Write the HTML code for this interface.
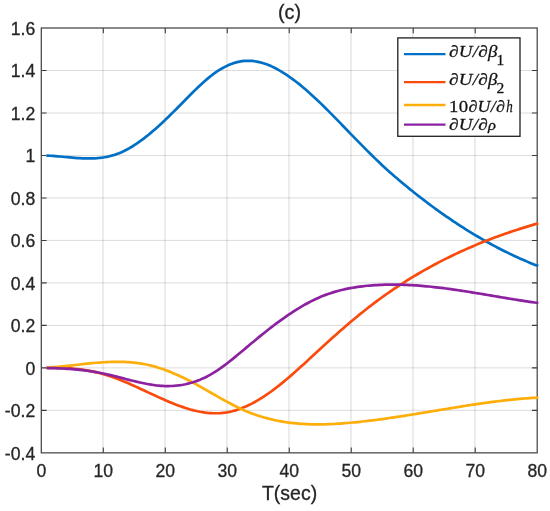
<!DOCTYPE html>
<html><head><meta charset="utf-8"><title>(c)</title>
<style>
html,body{margin:0;padding:0;background:#fff;}
svg{display:block;}
.t{font-family:"Liberation Sans",sans-serif;font-size:17.6px;fill:#262626;stroke:#262626;stroke-width:0.3px;}
.l{font-family:"Liberation Sans",sans-serif;font-size:19.5px;fill:#262626;stroke:#262626;stroke-width:0.3px;}
.m{font-family:"Liberation Serif","DejaVu Serif",serif;font-style:italic;font-size:16.6px;fill:#111;stroke:#111;stroke-width:0.25px;letter-spacing:0.3px;}
.n{font-family:"Liberation Serif","DejaVu Serif",serif;font-style:normal;}
</style></head><body>
<svg width="550" height="511" viewBox="0 0 550 511">
<rect width="550" height="511" fill="#fff"/>
<path d="M102.99 28.0 V452.85 M164.97 28.0 V452.85 M226.96 28.0 V452.85 M288.95 28.0 V452.85 M350.94 28.0 V452.85 M412.93 28.0 V452.85 M474.91 28.0 V452.85" stroke="#262626" stroke-opacity="0.105" stroke-width="1.7" fill="none"/>
<path d="M41.3 410.37 H537.2 M41.3 367.88 H537.2 M41.3 325.39 H537.2 M41.3 282.91 H537.2 M41.3 240.43 H537.2 M41.3 197.94 H537.2 M41.3 155.46 H537.2 M41.3 112.97 H537.2 M41.3 70.49 H537.2" stroke="#262626" stroke-opacity="0.16" stroke-width="1" fill="none"/>
<path d="M103.29 452.85 v-5.3 M103.29 28.0 v5.3 M165.28 452.85 v-5.3 M165.28 28.0 v5.3 M227.26 452.85 v-5.3 M227.26 28.0 v5.3 M289.25 452.85 v-5.3 M289.25 28.0 v5.3 M351.24 452.85 v-5.3 M351.24 28.0 v5.3 M413.23 452.85 v-5.3 M413.23 28.0 v5.3 M475.21 452.85 v-5.3 M475.21 28.0 v5.3 M41.3 410.37 h5.3 M537.2 410.37 h-5.3 M41.3 367.88 h5.3 M537.2 367.88 h-5.3 M41.3 325.39 h5.3 M537.2 325.39 h-5.3 M41.3 282.91 h5.3 M537.2 282.91 h-5.3 M41.3 240.43 h5.3 M537.2 240.43 h-5.3 M41.3 197.94 h5.3 M537.2 197.94 h-5.3 M41.3 155.46 h5.3 M537.2 155.46 h-5.3 M41.3 112.97 h5.3 M537.2 112.97 h-5.3 M41.3 70.49 h5.3 M537.2 70.49 h-5.3" stroke="#3c3c3c" stroke-width="1.1" fill="none"/>
<rect x="41.3" y="28.0" width="495.90" height="424.85" fill="none" stroke="#454545" stroke-width="1.25"/>
<g fill="none" stroke-width="2.7" stroke-linejoin="round" stroke-linecap="square">
<path d="M47.81 155.62 L50.27 155.75 L52.73 155.91 L55.18 156.09 L57.64 156.29 L60.10 156.51 L62.56 156.74 L65.02 156.97 L67.48 157.21 L69.93 157.43 L72.39 157.65 L74.85 157.85 L77.31 158.03 L79.77 158.19 L82.23 158.31 L84.68 158.41 L87.14 158.46 L89.60 158.46 L92.06 158.42 L94.52 158.32 L96.98 158.16 L99.43 157.93 L101.89 157.64 L104.35 157.27 L106.81 156.82 L109.27 156.28 L111.72 155.65 L114.18 154.93 L116.64 154.11 L119.10 153.19 L121.56 152.15 L124.02 151.02 L126.47 149.78 L128.93 148.44 L131.39 147.01 L133.85 145.49 L136.31 143.88 L138.77 142.20 L141.22 140.43 L143.68 138.59 L146.14 136.68 L148.60 134.70 L151.06 132.66 L153.52 130.57 L155.97 128.41 L158.43 126.21 L160.89 123.96 L163.35 121.66 L165.81 119.33 L168.27 116.96 L170.72 114.56 L173.18 112.13 L175.64 109.68 L178.10 107.20 L180.56 104.71 L183.02 102.21 L185.47 99.71 L187.93 97.21 L190.39 94.73 L192.85 92.27 L195.31 89.85 L197.77 87.47 L200.22 85.15 L202.68 82.89 L205.14 80.71 L207.60 78.61 L210.06 76.60 L212.52 74.70 L214.97 72.90 L217.43 71.22 L219.89 69.65 L222.35 68.21 L224.81 66.88 L227.27 65.68 L229.72 64.60 L232.18 63.65 L234.64 62.83 L237.10 62.15 L239.56 61.60 L242.02 61.19 L244.47 60.93 L246.93 60.80 L249.39 60.81 L251.85 60.95 L254.31 61.21 L256.77 61.61 L259.22 62.12 L261.68 62.75 L264.14 63.49 L266.60 64.35 L269.06 65.30 L271.52 66.36 L273.97 67.52 L276.43 68.78 L278.89 70.12 L281.35 71.55 L283.81 73.06 L286.27 74.65 L288.72 76.32 L291.18 78.06 L293.64 79.86 L296.10 81.73 L298.56 83.67 L301.02 85.66 L303.47 87.71 L305.93 89.81 L308.39 91.97 L310.85 94.17 L313.31 96.41 L315.77 98.70 L318.22 101.02 L320.68 103.38 L323.14 105.77 L325.60 108.19 L328.06 110.64 L330.52 113.11 L332.97 115.59 L335.43 118.10 L337.89 120.62 L340.35 123.15 L342.81 125.69 L345.27 128.23 L347.72 130.78 L350.18 133.32 L352.64 135.86 L355.10 138.39 L357.56 140.91 L360.02 143.43 L362.47 145.93 L364.93 148.41 L367.39 150.87 L369.85 153.32 L372.31 155.74 L374.77 158.14 L377.22 160.50 L379.68 162.85 L382.14 165.15 L384.60 167.43 L387.06 169.67 L389.51 171.88 L391.97 174.06 L394.43 176.22 L396.89 178.34 L399.35 180.44 L401.81 182.51 L404.26 184.55 L406.72 186.58 L409.18 188.58 L411.64 190.56 L414.10 192.52 L416.56 194.46 L419.01 196.39 L421.47 198.29 L423.93 200.18 L426.39 202.04 L428.85 203.89 L431.31 205.72 L433.76 207.53 L436.22 209.32 L438.68 211.09 L441.14 212.84 L443.60 214.57 L446.06 216.29 L448.51 217.98 L450.97 219.65 L453.43 221.31 L455.89 222.94 L458.35 224.56 L460.81 226.15 L463.26 227.73 L465.72 229.28 L468.18 230.82 L470.64 232.33 L473.10 233.83 L475.56 235.31 L478.01 236.76 L480.47 238.20 L482.93 239.62 L485.39 241.01 L487.85 242.39 L490.31 243.74 L492.76 245.08 L495.22 246.39 L497.68 247.69 L500.14 248.96 L502.60 250.22 L505.06 251.45 L507.51 252.66 L509.97 253.86 L512.43 255.03 L514.89 256.18 L517.35 257.31 L519.81 258.42 L522.26 259.51 L524.72 260.57 L527.18 261.62 L529.64 262.65 L532.10 263.65 L534.56 264.64 L537.01 265.60" stroke="#0070C6"/>
<path d="M47.81 367.82 L50.27 367.82 L52.73 367.83 L55.18 367.86 L57.64 367.90 L60.10 367.97 L62.56 368.05 L65.02 368.16 L67.48 368.29 L69.93 368.45 L72.39 368.64 L74.85 368.86 L77.31 369.10 L79.77 369.38 L82.23 369.70 L84.68 370.05 L87.14 370.44 L89.60 370.87 L92.06 371.34 L94.52 371.85 L96.98 372.40 L99.43 373.01 L101.89 373.66 L104.35 374.36 L106.81 375.11 L109.27 375.90 L111.72 376.74 L114.18 377.62 L116.64 378.54 L119.10 379.49 L121.56 380.47 L124.02 381.49 L126.47 382.53 L128.93 383.59 L131.39 384.67 L133.85 385.77 L136.31 386.89 L138.77 388.02 L141.22 389.16 L143.68 390.30 L146.14 391.45 L148.60 392.60 L151.06 393.74 L153.52 394.88 L155.97 396.02 L158.43 397.14 L160.89 398.25 L163.35 399.34 L165.81 400.41 L168.27 401.47 L170.72 402.49 L173.18 403.49 L175.64 404.46 L178.10 405.39 L180.56 406.28 L183.02 407.14 L185.47 407.95 L187.93 408.72 L190.39 409.44 L192.85 410.10 L195.31 410.71 L197.77 411.26 L200.22 411.75 L202.68 412.18 L205.14 412.54 L207.60 412.83 L210.06 413.05 L212.52 413.19 L214.97 413.26 L217.43 413.24 L219.89 413.13 L222.35 412.94 L224.81 412.66 L227.27 412.29 L229.72 411.81 L232.18 411.25 L234.64 410.59 L237.10 409.84 L239.56 409.01 L242.02 408.09 L244.47 407.08 L246.93 406.00 L249.39 404.84 L251.85 403.60 L254.31 402.29 L256.77 400.90 L259.22 399.45 L261.68 397.93 L264.14 396.35 L266.60 394.70 L269.06 392.99 L271.52 391.23 L273.97 389.41 L276.43 387.54 L278.89 385.62 L281.35 383.65 L283.81 381.64 L286.27 379.58 L288.72 377.50 L291.18 375.37 L293.64 373.22 L296.10 371.05 L298.56 368.84 L301.02 366.62 L303.47 364.38 L305.93 362.13 L308.39 359.87 L310.85 357.60 L313.31 355.33 L315.77 353.06 L318.22 350.79 L320.68 348.52 L323.14 346.27 L325.60 344.02 L328.06 341.79 L330.52 339.57 L332.97 337.36 L335.43 335.17 L337.89 332.98 L340.35 330.82 L342.81 328.67 L345.27 326.54 L347.72 324.43 L350.18 322.33 L352.64 320.26 L355.10 318.21 L357.56 316.18 L360.02 314.17 L362.47 312.18 L364.93 310.23 L367.39 308.29 L369.85 306.38 L372.31 304.50 L374.77 302.65 L377.22 300.82 L379.68 299.01 L382.14 297.23 L384.60 295.47 L387.06 293.74 L389.51 292.03 L391.97 290.35 L394.43 288.68 L396.89 287.05 L399.35 285.43 L401.81 283.84 L404.26 282.26 L406.72 280.72 L409.18 279.19 L411.64 277.68 L414.10 276.19 L416.56 274.73 L419.01 273.28 L421.47 271.86 L423.93 270.45 L426.39 269.07 L428.85 267.70 L431.31 266.35 L433.76 265.03 L436.22 263.72 L438.68 262.42 L441.14 261.15 L443.60 259.89 L446.06 258.66 L448.51 257.44 L450.97 256.23 L453.43 255.05 L455.89 253.88 L458.35 252.73 L460.81 251.59 L463.26 250.47 L465.72 249.37 L468.18 248.29 L470.64 247.22 L473.10 246.16 L475.56 245.12 L478.01 244.10 L480.47 243.09 L482.93 242.10 L485.39 241.12 L487.85 240.16 L490.31 239.21 L492.76 238.27 L495.22 237.35 L497.68 236.45 L500.14 235.55 L502.60 234.68 L505.06 233.81 L507.51 232.96 L509.97 232.12 L512.43 231.29 L514.89 230.48 L517.35 229.67 L519.81 228.88 L522.26 228.11 L524.72 227.34 L527.18 226.59 L529.64 225.85 L532.10 225.11 L534.56 224.39 L537.01 223.69" stroke="#FA4A0C"/>
<path d="M47.81 367.56 L50.27 367.40 L52.73 367.22 L55.18 367.02 L57.64 366.81 L60.10 366.58 L62.56 366.34 L65.02 366.09 L67.48 365.83 L69.93 365.56 L72.39 365.29 L74.85 365.02 L77.31 364.75 L79.77 364.48 L82.23 364.21 L84.68 363.95 L87.14 363.69 L89.60 363.45 L92.06 363.21 L94.52 362.98 L96.98 362.77 L99.43 362.58 L101.89 362.41 L104.35 362.25 L106.81 362.12 L109.27 362.01 L111.72 361.92 L114.18 361.87 L116.64 361.84 L119.10 361.84 L121.56 361.88 L124.02 361.95 L126.47 362.06 L128.93 362.21 L131.39 362.40 L133.85 362.63 L136.31 362.90 L138.77 363.22 L141.22 363.59 L143.68 364.01 L146.14 364.49 L148.60 365.01 L151.06 365.59 L153.52 366.23 L155.97 366.92 L158.43 367.67 L160.89 368.46 L163.35 369.30 L165.81 370.19 L168.27 371.13 L170.72 372.10 L173.18 373.13 L175.64 374.19 L178.10 375.28 L180.56 376.42 L183.02 377.59 L185.47 378.79 L187.93 380.03 L190.39 381.29 L192.85 382.59 L195.31 383.90 L197.77 385.25 L200.22 386.61 L202.68 387.99 L205.14 389.39 L207.60 390.80 L210.06 392.21 L212.52 393.62 L214.97 395.03 L217.43 396.44 L219.89 397.84 L222.35 399.22 L224.81 400.59 L227.27 401.93 L229.72 403.25 L232.18 404.55 L234.64 405.80 L237.10 407.03 L239.56 408.21 L242.02 409.35 L244.47 410.44 L246.93 411.48 L249.39 412.47 L251.85 413.42 L254.31 414.32 L256.77 415.17 L259.22 415.98 L261.68 416.75 L264.14 417.47 L266.60 418.15 L269.06 418.80 L271.52 419.40 L273.97 419.96 L276.43 420.48 L278.89 420.97 L281.35 421.42 L283.81 421.84 L286.27 422.22 L288.72 422.56 L291.18 422.87 L293.64 423.16 L296.10 423.40 L298.56 423.62 L301.02 423.81 L303.47 423.97 L305.93 424.11 L308.39 424.21 L310.85 424.30 L313.31 424.35 L315.77 424.38 L318.22 424.39 L320.68 424.37 L323.14 424.34 L325.60 424.28 L328.06 424.20 L330.52 424.11 L332.97 423.99 L335.43 423.86 L337.89 423.72 L340.35 423.55 L342.81 423.37 L345.27 423.18 L347.72 422.98 L350.18 422.76 L352.64 422.53 L355.10 422.30 L357.56 422.05 L360.02 421.79 L362.47 421.52 L364.93 421.24 L367.39 420.96 L369.85 420.66 L372.31 420.36 L374.77 420.05 L377.22 419.73 L379.68 419.40 L382.14 419.07 L384.60 418.73 L387.06 418.38 L389.51 418.03 L391.97 417.67 L394.43 417.31 L396.89 416.94 L399.35 416.57 L401.81 416.19 L404.26 415.80 L406.72 415.42 L409.18 415.03 L411.64 414.63 L414.10 414.24 L416.56 413.84 L419.01 413.44 L421.47 413.03 L423.93 412.63 L426.39 412.22 L428.85 411.81 L431.31 411.41 L433.76 411.00 L436.22 410.59 L438.68 410.18 L441.14 409.77 L443.60 409.36 L446.06 408.96 L448.51 408.55 L450.97 408.15 L453.43 407.75 L455.89 407.35 L458.35 406.96 L460.81 406.57 L463.26 406.18 L465.72 405.79 L468.18 405.41 L470.64 405.03 L473.10 404.66 L475.56 404.29 L478.01 403.93 L480.47 403.58 L482.93 403.23 L485.39 402.88 L487.85 402.54 L490.31 402.21 L492.76 401.89 L495.22 401.58 L497.68 401.27 L500.14 400.97 L502.60 400.68 L505.06 400.39 L507.51 400.12 L509.97 399.86 L512.43 399.60 L514.89 399.36 L517.35 399.12 L519.81 398.90 L522.26 398.69 L524.72 398.49 L527.18 398.30 L529.64 398.12 L532.10 397.96 L534.56 397.80 L537.01 397.66" stroke="#FDAE0A"/>
<path d="M47.81 367.98 L50.27 368.04 L52.73 368.10 L55.18 368.18 L57.64 368.28 L60.10 368.38 L62.56 368.50 L65.02 368.64 L67.48 368.80 L69.93 368.97 L72.39 369.16 L74.85 369.37 L77.31 369.60 L79.77 369.85 L82.23 370.12 L84.68 370.42 L87.14 370.74 L89.60 371.08 L92.06 371.46 L94.52 371.85 L96.98 372.28 L99.43 372.73 L101.89 373.21 L104.35 373.73 L106.81 374.27 L109.27 374.84 L111.72 375.42 L114.18 376.03 L116.64 376.65 L119.10 377.28 L121.56 377.92 L124.02 378.55 L126.47 379.19 L128.93 379.82 L131.39 380.44 L133.85 381.05 L136.31 381.64 L138.77 382.22 L141.22 382.76 L143.68 383.28 L146.14 383.77 L148.60 384.21 L151.06 384.62 L153.52 384.99 L155.97 385.31 L158.43 385.57 L160.89 385.79 L163.35 385.94 L165.81 386.03 L168.27 386.05 L170.72 386.00 L173.18 385.89 L175.64 385.70 L178.10 385.45 L180.56 385.12 L183.02 384.71 L185.47 384.23 L187.93 383.67 L190.39 383.02 L192.85 382.30 L195.31 381.50 L197.77 380.61 L200.22 379.63 L202.68 378.57 L205.14 377.42 L207.60 376.18 L210.06 374.85 L212.52 373.42 L214.97 371.91 L217.43 370.31 L219.89 368.63 L222.35 366.88 L224.81 365.07 L227.27 363.20 L229.72 361.28 L232.18 359.32 L234.64 357.33 L237.10 355.31 L239.56 353.27 L242.02 351.22 L244.47 349.16 L246.93 347.10 L249.39 345.04 L251.85 342.99 L254.31 340.95 L256.77 338.92 L259.22 336.90 L261.68 334.91 L264.14 332.93 L266.60 330.98 L269.06 329.05 L271.52 327.15 L273.97 325.27 L276.43 323.42 L278.89 321.60 L281.35 319.81 L283.81 318.06 L286.27 316.34 L288.72 314.66 L291.18 313.01 L293.64 311.41 L296.10 309.84 L298.56 308.32 L301.02 306.85 L303.47 305.42 L305.93 304.03 L308.39 302.70 L310.85 301.42 L313.31 300.19 L315.77 299.02 L318.22 297.90 L320.68 296.83 L323.14 295.83 L325.60 294.88 L328.06 293.99 L330.52 293.16 L332.97 292.37 L335.43 291.63 L337.89 290.94 L340.35 290.30 L342.81 289.70 L345.27 289.15 L347.72 288.63 L350.18 288.16 L352.64 287.72 L355.10 287.32 L357.56 286.95 L360.02 286.61 L362.47 286.31 L364.93 286.03 L367.39 285.78 L369.85 285.55 L372.31 285.35 L374.77 285.18 L377.22 285.03 L379.68 284.90 L382.14 284.80 L384.60 284.72 L387.06 284.66 L389.51 284.62 L391.97 284.60 L394.43 284.60 L396.89 284.63 L399.35 284.67 L401.81 284.73 L404.26 284.81 L406.72 284.91 L409.18 285.03 L411.64 285.16 L414.10 285.31 L416.56 285.47 L419.01 285.65 L421.47 285.85 L423.93 286.06 L426.39 286.29 L428.85 286.52 L431.31 286.78 L433.76 287.04 L436.22 287.32 L438.68 287.60 L441.14 287.90 L443.60 288.21 L446.06 288.53 L448.51 288.86 L450.97 289.20 L453.43 289.54 L455.89 289.90 L458.35 290.26 L460.81 290.63 L463.26 291.00 L465.72 291.38 L468.18 291.77 L470.64 292.16 L473.10 292.56 L475.56 292.96 L478.01 293.36 L480.47 293.77 L482.93 294.18 L485.39 294.59 L487.85 295.01 L490.31 295.42 L492.76 295.84 L495.22 296.25 L497.68 296.67 L500.14 297.08 L502.60 297.49 L505.06 297.90 L507.51 298.31 L509.97 298.71 L512.43 299.12 L514.89 299.51 L517.35 299.91 L519.81 300.30 L522.26 300.68 L524.72 301.06 L527.18 301.43 L529.64 301.79 L532.10 302.15 L534.56 302.50 L537.01 302.84" stroke="#8C22A0"/>
</g>
<text class="t" x="41.30" y="476.8" text-anchor="middle">0</text>
<text class="t" x="103.29" y="476.8" text-anchor="middle">10</text>
<text class="t" x="165.28" y="476.8" text-anchor="middle">20</text>
<text class="t" x="227.26" y="476.8" text-anchor="middle">30</text>
<text class="t" x="289.25" y="476.8" text-anchor="middle">40</text>
<text class="t" x="351.24" y="476.8" text-anchor="middle">50</text>
<text class="t" x="413.23" y="476.8" text-anchor="middle">60</text>
<text class="t" x="475.21" y="476.8" text-anchor="middle">70</text>
<text class="t" x="537.20" y="476.8" text-anchor="middle">80</text>
<text class="t" x="35.2" y="459.55" text-anchor="end">-0.4</text>
<text class="t" x="35.2" y="417.06" text-anchor="end">-0.2</text>
<text class="t" x="35.2" y="374.58" text-anchor="end">0</text>
<text class="t" x="35.2" y="332.09" text-anchor="end">0.2</text>
<text class="t" x="35.2" y="289.61" text-anchor="end">0.4</text>
<text class="t" x="35.2" y="247.12" text-anchor="end">0.6</text>
<text class="t" x="35.2" y="204.64" text-anchor="end">0.8</text>
<text class="t" x="35.2" y="162.16" text-anchor="end">1</text>
<text class="t" x="35.2" y="119.67" text-anchor="end">1.2</text>
<text class="t" x="35.2" y="77.19" text-anchor="end">1.4</text>
<text class="t" x="35.2" y="34.70" text-anchor="end">1.6</text>
<text class="l" x="289.5" y="500.4" text-anchor="middle">T(sec)</text>
<text class="l" style="font-size:19.8px" x="289.5" y="19.1" text-anchor="middle">(c)</text>
<rect x="397.8" y="37.9" width="122.2" height="98.4" fill="#fff" stroke="#262626" stroke-width="1.35"/>
<path d="M404 54.2 H445.5" stroke="#0070C6" stroke-width="2.3" fill="none"/>
<path d="M404 82.2 H445.5" stroke="#FA4A0C" stroke-width="2.3" fill="none"/>
<path d="M404 105.0 H445.5" stroke="#FDAE0A" stroke-width="2.3" fill="none"/>
<path d="M404 124.7 H445.5" stroke="#8C22A0" stroke-width="2.3" fill="none"/>
<text class="m" transform="translate(449,57) scale(1.14,1)">∂U/∂β<tspan class="n" dx="-1" dy="7.8" font-size="13.6">1</tspan></text>
<text class="m" transform="translate(449,85) scale(1.14,1)">∂U/∂β<tspan class="n" dx="-1" dy="7.8" font-size="13.6">2</tspan></text>
<text class="m" transform="translate(449,111.8) scale(1.07,1)"><tspan class="n" font-size="17.6">10</tspan>∂U/∂<tspan font-size="17" dx="1" textLength="6.3" lengthAdjust="spacingAndGlyphs">h</tspan></text>
<text class="m" transform="translate(449,129.8) scale(1.14,1)">∂U/∂<tspan font-size="14.5">ρ</tspan></text>
</svg></body></html>
